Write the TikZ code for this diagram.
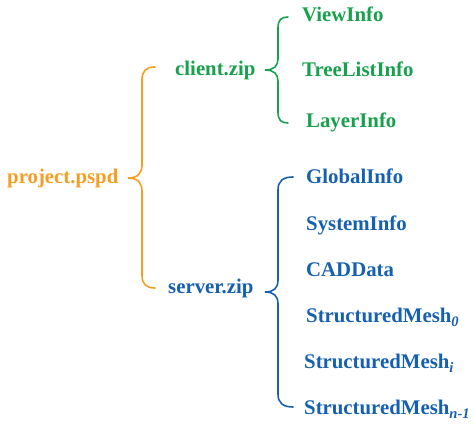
\documentclass[tikz,border=0pt]{standalone}
\usepackage{fontspec}
\setmainfont{Liberation Serif}
\definecolor{pspdorange}{RGB}{245,158,35}
\definecolor{zipgreen}{RGB}{24,160,78}
\definecolor{zipblue}{RGB}{22,96,176}
\tikzset{
  item/.style={anchor=base west, inner sep=0pt, font=\fontsize{20.8}{25}\selectfont\bfseries},
  bracket/.style={line width=1.6pt, line cap=round},
}
\begin{document}
\begin{tikzpicture}[x=1pt, y=-1pt]
  \useasboundingbox (0,0) rectangle (474,427);
  % archive and its two parts
  \node[item, pspdorange] (project) at (7,184) {project.pspd};
  \node[item, zipgreen] (client) at (175,76) {client.zip};
  \node[item, zipblue] (server) at (168,294) {server.zip};
  % contents of client.zip
  \foreach \name/\txt/\x/\y in {view/ViewInfo/302/22, tree/TreeListInfo/302/77, layer/LayerInfo/306/128}
    \node[item, zipgreen] (\name) at (\x,\y) {\txt};
  % contents of server.zip
  \foreach \name/\txt/\x/\y in {global/GlobalInfo/306/184, system/SystemInfo/306/231, cad/CADData/306/277,
      meshA/StructuredMesh\textsubscript{\textit{0}}/306/323,
      meshB/StructuredMesh\textsubscript{\textit{i}}/304/369,
      meshC/StructuredMesh\textsubscript{\textit{n-1}}/304/415}
    \node[item, zipblue] (\name) at (\x,\y) {\txt};
  % brace ends
  \coordinate (pTop) at (155,67);
  \coordinate (pBot) at (155,288);
  \coordinate (cTop) at (288,17);
  \coordinate (cBot) at (288,123);
  \coordinate (sTop) at (293,177);
  \coordinate (sBot) at (293,407);
  \draw[bracket, pspdorange] (pTop) .. controls (146,67) and (142,71) .. (142,80) -- (142,165)
    .. controls (142,173) and (138,178) .. (128,178) .. controls (138,178) and (142,183) .. (142,191)
    -- (142,275) .. controls (142,284) and (146,288) .. (pBot);
  \draw[bracket, zipgreen] (cTop) .. controls (281,17) and (278,20) .. (278,28) -- (278,59)
    .. controls (278,66) and (274,70) .. (265,70) .. controls (274,70) and (278,74) .. (278,81)
    -- (278,112) .. controls (278,120) and (281,123) .. (cBot);
  \draw[bracket, zipblue] (sTop) .. controls (283,177) and (278,181) .. (278,190) -- (278,280)
    .. controls (278,288) and (274,292) .. (265,292) .. controls (274,292) and (278,296) .. (278,304)
    -- (278,394) .. controls (278,403) and (283,407) .. (sBot);
\end{tikzpicture}
\end{document}
